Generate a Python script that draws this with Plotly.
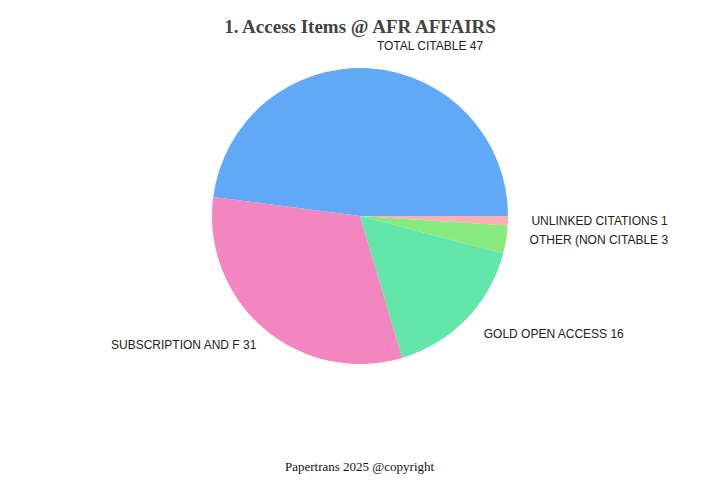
import plotly.graph_objects as go

labels = ["UNLINKED CITATIONS", "OTHER (NON CITABLE", "GOLD OPEN ACCESS", "SUBSCRIPTION AND F", "TOTAL CITABLE"]
values = [1, 3, 16, 31, 47]
colors = ["#F9B0B6", "#86EA7E", "#63E6AA", "#F386BE", "#61A9F6"]

# label padding (pushes the outside labels further from the pie)
nb = "\u00a0"
templates = [
    nb * 6 + "%{label} %{value}",
    nb * 6 + "%{label} %{value}",
    nb + "<br>" + nb * 3 + "%{label} %{value}",
    nb + "<br>%{label} %{value}",
    "%{label} %{value}<br>" + nb,
]

fig = go.Figure(go.Pie(
    labels=labels,
    values=values,
    marker=dict(colors=colors),
    texttemplate=templates,
    textposition="outside",
    textfont=dict(family="Arial", size=12, color="#222"),
    sort=False,
    direction="clockwise",
    rotation=90,
    showlegend=False,
    hoverinfo="label+value+percent",
))

top, bottom, left, right = 60, 124, 52, 68
fig.update_layout(
    width=720, height=480,
    paper_bgcolor="white",
    plot_bgcolor="white",
    title=dict(text="<b>1. Access Items @ AFR AFFAIRS</b>", x=352 / 720, y=1 - 18 / 480,
               xanchor="center", yanchor="middle",
               font=dict(family="Times New Roman", size=19, color="#444")),
    margin=dict(l=left, r=right, t=top, b=bottom, autoexpand=False),
    annotations=[dict(text="Papertrans 2025 @copyright", x=0.5, y=(480 - bottom - 458) / (480 - top - bottom),
                      xref="paper", yref="paper",
                      showarrow=False, xanchor="center", yanchor="middle",
                      font=dict(family="Times New Roman", size=13, color="#111"))],
)

fig.write_html("out.html")
